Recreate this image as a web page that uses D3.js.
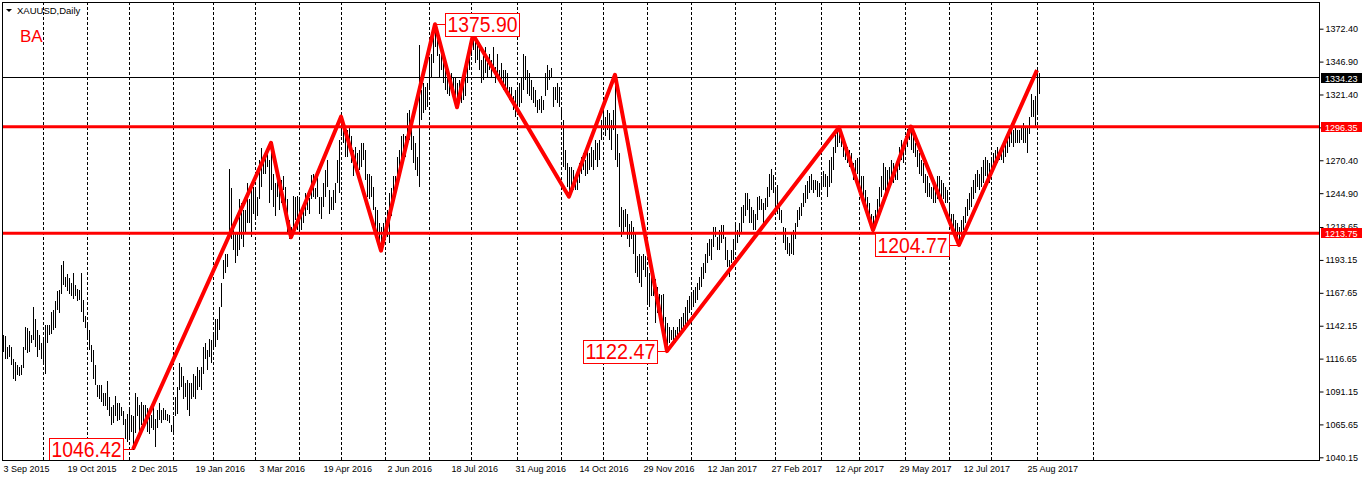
<!DOCTYPE html>
<html><head><meta charset="utf-8">
<script src="https://cdn.jsdelivr.net/npm/d3@7"></script>
<style>html,body{margin:0;padding:0;background:#fff;overflow:hidden}svg{display:block}</style>
</head><body><svg id="c" width="1362" height="481"></svg>
<script>
// ---- DATA ----
// Daily bar highs, one per trading day starting 3 Sep 2015 (index 0)
const barHigh = [
1135,1134,1126,1127,1126,1116,1114,1112,1110,1112,
1126,1141,1140,1138,1135,1157,1147,1139,1135,1129,
1131,1143,1143,1143,1153,1154,1161,1169,1170,1189,
1192,1180,1182,1179,1175,1183,1174,1171,1170,1183,
1162,1150,1144,1139,1127,1123,1112,1096,1096,1096,
1090,1090,1099,1087,1079,1081,1088,1082,1082,1079,
1076,1070,1074,1078,1073,1072,1090,1087,1081,1083,
1081,1081,1078,1077,1073,1079,1070,1077,1082,1077,
1078,1077,1074,1073,1065,1072,1087,1095,1113,1110,
1103,1098,1100,1098,1098,1105,1103,1110,1108,1110,
1126,1129,1123,1132,1131,1136,1147,1147,1157,1175,
1193,1198,1198,1264,1249,1216,1214,1214,1240,1237,
1232,1232,1253,1240,1247,1250,1250,1242,1271,1280,
1273,1276,1278,1271,1285,1260,1253,1265,1258,1255,
1258,1250,1240,1224,1219,1243,1242,1243,1240,1232,
1237,1245,1245,1241,1259,1260,1249,1263,1242,1242,
1253,1263,1271,1247,1242,1247,1253,1271,1286,1304,
1296,1296,1294,1296,1289,1278,1281,1276,1278,1284,
1284,1278,1260,1260,1258,1250,1234,1232,1222,1219,
1222,1224,1232,1245,1249,1258,1258,1273,1278,1289,
1291,1289,1307,1309,1299,1289,1284,1273,1360,1325,
1330,1327,1330,1348,1353,1371,1376,1364,1353,1361,
1348,1343,1338,1335,1338,1335,1335,1330,1333,1330,
1335,1338,1351,1361,1366,1368,1364,1361,1358,1348,
1351,1358,1346,1353,1348,1358,1343,1353,1340,1346,
1340,1340,1338,1327,1327,1320,1325,1327,1330,1335,
1353,1351,1340,1338,1333,1327,1325,1317,1318,1320,
1317,1338,1344,1340,1342,1327,1327,1330,1327,1312,
1302,1278,1268,1265,1265,1263,1258,1260,1268,1273,
1276,1271,1278,1276,1281,1278,1286,1284,1286,1302,
1309,1304,1309,1307,1302,1309,1336,1291,1276,1234,
1232,1233,1229,1221,1223,1219,1214,1196,1198,1196,
1198,1196,1188,1183,1180,1183,1178,1172,1167,1166,
1167,1149,1144,1141,1139,1141,1139,1141,1147,1149,
1152,1157,1162,1165,1167,1170,1172,1175,1180,1188,
1191,1198,1206,1209,1209,1219,1219,1211,1216,1220,
1220,1211,1201,1193,1201,1209,1222,1216,1222,1234,
1236,1245,1245,1240,1234,1232,1229,1242,1243,1240,
1237,1241,1250,1260,1264,1259,1250,1251,1234,1232,
1219,1218,1211,1206,1214,1216,1222,1232,1234,1237,
1245,1251,1254,1258,1260,1255,1255,1254,1253,1258,
1262,1260,1258,1271,1273,1281,1290,1294,1296,1291,
1289,1284,1281,1278,1276,1268,1271,1272,1271,1258,
1258,1247,1242,1237,1229,1227,1232,1240,1250,1258,
1268,1265,1263,1265,1271,1268,1265,1271,1281,1286,
1281,1289,1295,1298,1296,1289,1284,1278,1276,1271,
1268,1260,1258,1253,1250,1255,1250,1258,1258,1255,
1253,1250,1247,1237,1229,1229,1224,1222,1219,1224,
1227,1234,1240,1245,1250,1255,1260,1263,1260,1265,
1271,1273,1271,1268,1273,1276,1278,1281,1278,1281,
1284,1284,1291,1296,1299,1294,1296,1294,1294,1296,
1299,1296,1296,1304,1322,1317,1320,1340,1338
];
// Daily bar lows
const barLow = [
1122,1116,1116,1118,1112,1101,1099,1104,1103,1104,
1109,1123,1121,1122,1129,1131,1126,1118,1123,1116,
1112,1105,1129,1135,1136,1139,1140,1154,1152,1167,
1174,1172,1169,1167,1165,1163,1165,1161,1162,1153,
1145,1140,1131,1123,1114,1101,1096,1087,1085,1083,
1080,1080,1077,1072,1065,1067,1072,1068,1069,1072,
1065,1054,1052,1056,1060,1046,1059,1072,1060,1065,
1067,1069,1060,1058,1063,1061,1048,1063,1069,1067,
1069,1069,1068,1067,1060,1059,1072,1074,1092,1095,
1085,1087,1077,1072,1085,1087,1085,1092,1095,1092,
1105,1116,1108,1118,1113,1123,1126,1131,1139,1157,
1178,1183,1188,1214,1209,1201,1191,1196,1201,1209,
1203,1214,1222,1222,1211,1229,1224,1227,1240,1250,
1260,1260,1265,1237,1247,1234,1227,1242,1232,1237,
1247,1229,1214,1209,1210,1216,1224,1216,1215,1216,
1222,1227,1232,1229,1240,1242,1240,1242,1229,1225,
1234,1242,1250,1229,1232,1232,1237,1253,1245,1289,
1284,1273,1273,1278,1268,1258,1263,1260,1263,1265,
1271,1255,1242,1240,1242,1232,1219,1211,1201,1200,
1206,1209,1211,1206,1227,1237,1242,1253,1255,1265,
1268,1273,1284,1286,1278,1268,1263,1258,1250,1302,
1307,1309,1312,1327,1335,1346,1358,1351,1335,1340,
1330,1325,1322,1320,1325,1317,1312,1311,1317,1315,
1317,1320,1330,1340,1351,1356,1346,1348,1340,1330,
1333,1338,1335,1340,1335,1343,1330,1338,1333,1330,
1325,1327,1325,1317,1315,1309,1304,1307,1312,1315,
1325,1333,1322,1320,1317,1315,1312,1307,1309,1307,
1309,1320,1325,1333,1335,1312,1317,1315,1312,1302,
1265,1263,1250,1242,1250,1247,1247,1247,1253,1260,
1263,1258,1260,1263,1265,1263,1271,1265,1271,1286,
1294,1289,1294,1286,1278,1294,1271,1265,1219,1211,
1214,1219,1209,1203,1209,1198,1183,1180,1175,1172,
1185,1180,1160,1157,1165,1165,1144,1152,1149,1147,
1141,1129,1122,1129,1131,1131,1129,1131,1134,1136,
1139,1139,1144,1152,1154,1157,1160,1162,1170,1172,
1178,1183,1191,1196,1193,1203,1211,1201,1201,1206,
1209,1193,1188,1180,1191,1193,1201,1206,1211,1214,
1222,1227,1232,1222,1222,1216,1216,1224,1232,1232,
1222,1232,1234,1242,1247,1245,1234,1229,1224,1222,
1206,1201,1198,1196,1198,1197,1209,1219,1224,1227,
1234,1237,1240,1245,1247,1245,1247,1242,1242,1247,
1250,1250,1242,1250,1253,1263,1276,1281,1284,1281,
1273,1271,1268,1265,1263,1255,1255,1260,1253,1240,
1242,1232,1227,1224,1219,1215,1222,1227,1234,1242,
1247,1245,1247,1250,1255,1253,1255,1255,1263,1271,
1268,1276,1281,1286,1278,1276,1273,1265,1260,1258,
1253,1245,1242,1242,1240,1237,1237,1240,1242,1240,
1240,1237,1237,1224,1219,1216,1212,1211,1205,1211,
1216,1222,1227,1232,1234,1240,1245,1250,1247,1250,
1253,1258,1255,1253,1263,1263,1265,1268,1271,1271,
1268,1273,1276,1281,1284,1281,1284,1284,1284,1286,
1284,1284,1276,1291,1304,1304,1296,1307,1322
];
// ZigZag turning points: bar index and price
const zzIndex = [65,134,144,169,189,216,227,235,283,306,332,418,435,454,478,517];
const zzPrice = [1046.42,1284.0,1210.7,1304.2,1200.3,1375.90,1311.5,1367.7,1242.2,1336.7,1122.47,1296.0,1216.3,1296.5,1204.77,1340.3];
// Price labels on the zigzag
const labelIndex = [65,216,332,478];
const labelPrice = [1046.42,1375.90,1122.47,1204.77];
const labelSide  = ["left","right","left","left"];
// Horizontal levels
const levels = [1296.35,1213.75];
const bidPrice = 1334.23;
// Axis ticks
const priceTicks = [1372.40,1346.90,1321.40,1295.90,1270.40,1244.90,1218.65,1193.15,1167.65,1142.15,1116.65,1091.15,1065.65,1040.15];
const dateTickIndex = [0,32,64,96,128,160,192,224,256,288,320,352,384,416,448,480,512];
const dateTickLabel = ["3 Sep 2015","19 Oct 2015","2 Dec 2015","19 Jan 2016","3 Mar 2016","19 Apr 2016","2 Jun 2016","18 Jul 2016","31 Aug 2016","14 Oct 2016","29 Nov 2016","12 Jan 2017","27 Feb 2017","12 Apr 2017","29 May 2017","12 Jul 2017","25 Aug 2017"];
// Month separators (bar index of first bar of each month)
const monthSeparators = [20,42,63,85,105,126,148,169,191,213,234,257,279,300,322,344,366,386,409,428,451,473,494,517,545];
const symbolTitle = "XAUUSD,Daily";
const cornerText = "BA";

// ---- CHART ----
const svg = d3.select("#c");
const L=2, T=2, R=1319, B=460;
const x = d3.scaleLinear().domain([0,658]).range([3,1319]);
const y = d3.scaleLinear().domain([1040.15,1372.40]).range([457.3,28.7]);
const FONT = "'Liberation Sans', Arial, sans-serif";

svg.append("rect").attr("width",1362).attr("height",481).attr("fill","#fff");
svg.append("defs").append("clipPath").attr("id","pc")
  .append("rect").attr("x",L).attr("y",T).attr("width",R-L).attr("height",B-T);

const g = svg.append("g").attr("clip-path","url(#pc)");

// month separators
g.append("g").selectAll("line").data(monthSeparators).join("line")
  .attr("x1",d=>Math.round(x(d))+0.5).attr("x2",d=>Math.round(x(d))+0.5)
  .attr("y1",T).attr("y2",B)
  .attr("stroke","#000").attr("stroke-width",1).attr("stroke-dasharray","3,2")
  .attr("shape-rendering","crispEdges");

// bid line
g.append("line").attr("x1",L).attr("x2",R)
  .attr("y1",Math.round(y(bidPrice))-0.5).attr("y2",Math.round(y(bidPrice))-0.5)
  .attr("stroke","#000").attr("stroke-width",1).attr("shape-rendering","crispEdges");

// bars
const n = Math.min(barHigh.length,barLow.length);
g.append("g").selectAll("line").data(d3.range(n)).join("line")
  .attr("x1",i=>Math.round(x(i))+0.5).attr("x2",i=>Math.round(x(i))+0.5)
  .attr("y1",i=>y(barHigh[i])).attr("y2",i=>y(barLow[i]))
  .attr("stroke","#000").attr("stroke-width",1).attr("shape-rendering","crispEdges");

// level lines
g.append("g").selectAll("line").data(levels).join("line")
  .attr("x1",L).attr("x2",R).attr("y1",d=>y(d)).attr("y2",d=>y(d))
  .attr("stroke","#ff0000").attr("stroke-width",3);

// zigzag
const zz = zzIndex.map((d,i)=>[x(d),y(zzPrice[i])]);
g.append("path").attr("d",d3.line()(zz)).attr("fill","none")
  .attr("stroke","#ff0000").attr("stroke-width",4).attr("stroke-linejoin","round");

// zigzag price labels
const lg = g.append("g");
labelIndex.forEach((idx,k)=>{
  const px = x(idx), py = y(labelPrice[k]);
  const bw = 74, bh = 23, gap = 10;
  const bx = labelSide[k]==="right" ? px+gap : px-gap-bw;
  lg.append("line").attr("x1", labelSide[k]==="right"?px:bx+bw).attr("x2", labelSide[k]==="right"?bx:px)
    .attr("y1",Math.round(py)+0.5).attr("y2",Math.round(py)+0.5).attr("stroke","#ff0000").attr("stroke-width",1);
  lg.append("rect").attr("x",Math.round(bx)+0.5).attr("y",Math.round(py-bh/2)+0.5)
    .attr("width",bw).attr("height",bh).attr("fill","#fff").attr("stroke","#ff0000").attr("stroke-width",1);
  lg.append("text").attr("x",Math.round(bx)+2.5).attr("y",Math.round(py)+8)
    .attr("font-family",FONT).attr("font-size",22).attr("fill","#ff0000")
    .attr("textLength",70).attr("lengthAdjust","spacingAndGlyphs")
    .text(labelPrice[k].toFixed(2));
});

// frame
svg.append("rect").attr("x",L+0.5).attr("y",T+0.5).attr("width",R-L-1+1).attr("height",B-T)
  .attr("fill","none").attr("stroke","#000").attr("stroke-width",1).attr("shape-rendering","crispEdges");

// price axis
const ya = svg.append("g").attr("transform",`translate(${R+0.5},0)`)
  .call(d3.axisRight(y).tickValues(priceTicks).tickFormat(d3.format(".2f")).tickSize(4).tickPadding(2));
ya.select(".domain").remove();
ya.selectAll("text").attr("font-family",FONT).attr("font-size",9).attr("fill","#000");
ya.selectAll("line").attr("stroke","#000");

// price tags on the axis
const tags = [{v:bidPrice,c:"#000"}].concat(levels.map(v=>({v:v,c:"#ff0000"})));
tags.forEach(t=>{
  const ty = y(t.v);
  svg.append("rect").attr("x",R+2).attr("y",Math.round(ty)-5).attr("width",41).attr("height",10).attr("fill",t.c);
  svg.append("text").attr("x",R+6).attr("y",Math.round(ty)+3.5)
    .attr("font-family",FONT).attr("font-size",9).attr("fill","#fff").text(t.v.toFixed(2));
});

// date axis
const xa = svg.append("g").attr("transform",`translate(0,${B})`)
  .call(d3.axisBottom(x).tickValues(dateTickIndex).tickFormat((d,i)=>dateTickLabel[i]).tickSize(0).tickPadding(0));
xa.select(".domain").remove();
xa.selectAll("text").attr("font-family",FONT).attr("font-size",9).attr("fill","#000")
  .attr("text-anchor","start").attr("dy",0).attr("y",12);

// title
svg.append("path").attr("d","M6,9 L12,9 L9,12 Z").attr("fill","#000");
svg.append("text").attr("x",17).attr("y",14).attr("font-family",FONT).attr("font-size",9.5)
  .attr("fill","#000").text(symbolTitle);
svg.append("text").attr("x",20).attr("y",42).attr("font-family",FONT).attr("font-size",17)
  .attr("fill","#ff0000").text(cornerText);
</script></body></html>
